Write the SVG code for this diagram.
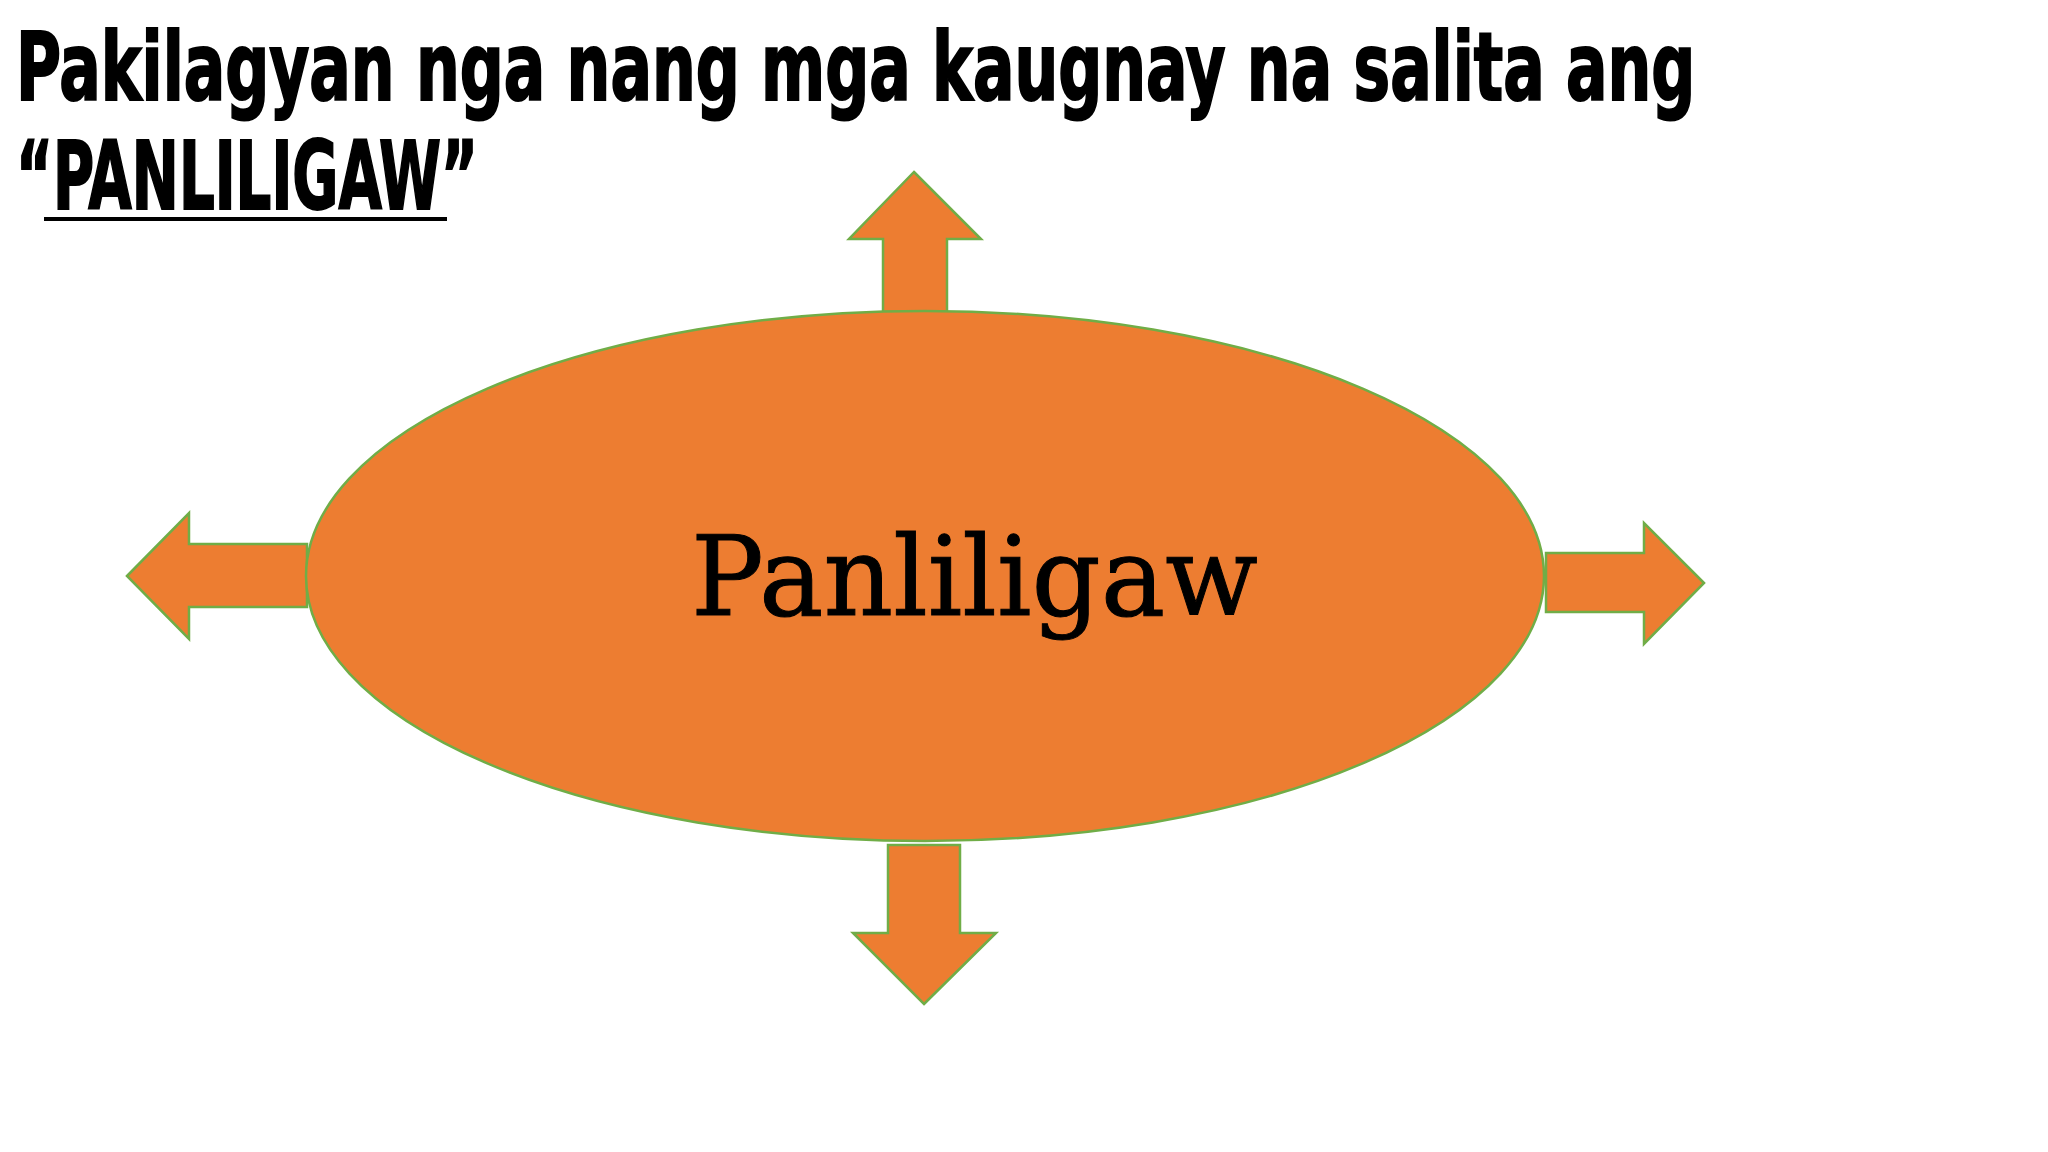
<svg xmlns="http://www.w3.org/2000/svg" width="2048" height="1152" viewBox="0 0 2048 1152">
<style>
.shape{fill:#ED7D31;stroke:#70AD47;stroke-width:2.5;stroke-linejoin:miter}
.title{font-family:"DejaVu Sans Condensed","Liberation Sans Narrow","Liberation Sans",sans-serif;font-weight:bold;font-size:94px;fill:#000;stroke:#000;stroke-width:2}
.label{font-family:"DejaVu Serif","Liberation Serif",serif;font-size:110px;fill:#000;stroke:#000;stroke-width:1}
</style>
<rect width="2048" height="1152" fill="#fff"/>
<g id="title">
<text class="title" transform="translate(16,100) scale(0.7,1)" x="0" y="0" textLength="2399" lengthAdjust="spacingAndGlyphs">Pakilagyan  nga nang mga kaugnay na salita ang</text>
<text class="title" transform="translate(16,209) scale(0.7,1)" x="0" y="0" textLength="660" lengthAdjust="spacingAndGlyphs">“PANLILIGAW”</text>
<rect x="44" y="217" width="403" height="4" fill="#000"/>
</g>
<g id="connectors">
<polygon id="arrow-up" class="shape" points="914,172 981,239 947,239 947,312 883,312 883,239 849,239"/>
<polygon id="arrow-left" class="shape" points="127,576 189,513 189,544 307,544 307,607 189,607 189,639"/>
<polygon id="arrow-right" class="shape" points="1704,583 1644,523 1644,553 1546,553 1546,612 1644,612 1644,644"/>
<polygon id="arrow-down" class="shape" points="924,1004 996,933 960,933 960,845 888,845 888,933 853,933"/>
</g>
<g id="node-center">
<ellipse class="shape" cx="925" cy="576" rx="619" ry="265"/>
<text class="label" x="691" y="615" textLength="567" lengthAdjust="spacingAndGlyphs">Panliligaw</text>
</g>
</svg>
